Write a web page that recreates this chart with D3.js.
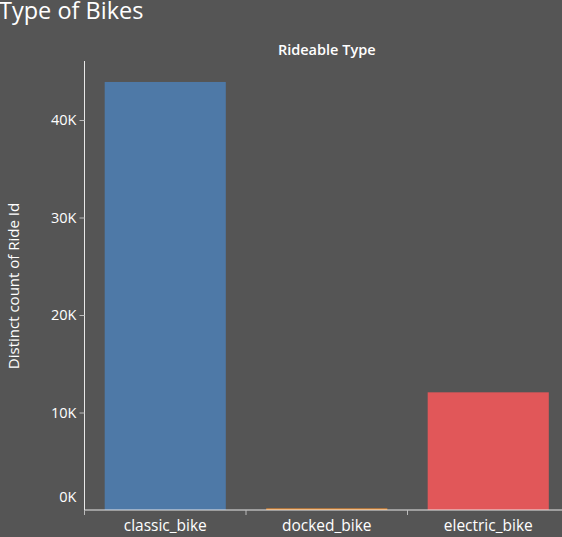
<!DOCTYPE html>
<html>
<head>
<meta charset="utf-8">
<script src="https://cdn.jsdelivr.net/npm/d3@7"></script>
<style>
  html, body { margin: 0; padding: 0; background: #555555; overflow: hidden; }
  svg { display: block; font-family: "Open Sans", Lato, sans-serif; }
</style>
</head>
<body>
<div id="chart"></div>
<script>
// data
var categories = ["classic_bike", "docked_bike", "electric_bike"];
var rideCounts = [43900, 160, 12070];
var barColors = ["#4e79a7", "#f28e2b", "#e15759"];
var yTicks = [0, 10000, 20000, 30000, 40000];

var width = 562, height = 537;
var margin = {top: 61, right: -7, bottom: 27, left: 84.5};
var font = '"Open Sans", Lato, sans-serif';

var svg = d3.select('#chart').append('svg')
    .attr('width', width)
    .attr('height', height);

svg.append('rect')
    .attr('width', width).attr('height', height)
    .attr('fill', '#555555');

var x = d3.scaleBand()
    .domain(categories)
    .range([margin.left, width - margin.right])
    .paddingInner(0.25)
    .paddingOuter(0.125);

// 0 sits at y=510, 40K at y=120
var y = d3.scaleLinear()
    .domain([0, 40000 * (510 - margin.top) / (510 - 120)])
    .range([height - margin.bottom, margin.top]);

// titles
svg.append('text')
    .attr('x', -1).attr('y', 19)
    .attr('fill', '#ffffff')
    .style('font-size', '23.5px')
    .text('Type of Bikes');

svg.append('text')
    .attr('x', (x.range()[0] + x.range()[1]) / 2)
    .attr('y', 55)
    .attr('text-anchor', 'middle')
    .attr('fill', '#ffffff')
    .style('font-size', '14.5px')
    .style('font-weight', '600')
    .text('Rideable Type');

svg.append('text')
    .attr('transform', 'translate(19,286) rotate(-90)')
    .attr('text-anchor', 'middle')
    .attr('fill', '#ffffff')
    .style('font-size', '15px')
    .text('Distinct count of Ride Id');

// bars
svg.append('g')
  .selectAll('rect')
  .data(categories)
  .enter().append('rect')
    .attr('x', function(d) { return x(d); })
    .attr('width', x.bandwidth())
    .attr('y', function(d, i) { return y(rideCounts[i]); })
    .attr('height', function(d, i) { return y(0) - y(rideCounts[i]); })
    .attr('fill', function(d, i) { return barColors[i]; });

// y axis
var yAxis = svg.append('g')
    .attr('transform', 'translate(' + margin.left + ',0)')
    .call(d3.axisLeft(y).tickValues(yTicks).tickSize(5).tickPadding(3)
        .tickFormat(function(d) { return (d / 1000) + 'K'; }));
yAxis.select('.domain').attr('d', 'M0,' + margin.top + 'V515').attr('stroke', '#e8e8e8');
yAxis.selectAll('.tick line').attr('stroke', '#bbbbbb');
yAxis.selectAll('.tick text')
    .attr('fill', '#ffffff')
    .style('font-size', '14.5px')
    .style('font-family', font);
yAxis.selectAll('.tick').filter(function(d) { return d === 0; })
    .select('line').remove();
yAxis.selectAll('.tick').filter(function(d) { return d === 0; })
    .select('text').attr('y', -13);

// x axis
var xAxis = svg.append('g')
    .attr('transform', 'translate(0,' + y(0) + ')')
    .call(d3.axisBottom(x).tickSize(0).tickPadding(10));
xAxis.select('.domain').attr('d', 'M' + margin.left + ',0H' + width).attr('stroke', '#e8e8e8');
xAxis.selectAll('.tick text')
    .attr('fill', '#ffffff')
    .style('font-size', '15.5px')
    .style('font-family', font);

// band dividers below the baseline
var bounds = categories.map(function(d) { return x(d) - x.step() * x.paddingInner() / 2; });
xAxis.selectAll('.divider')
  .data(bounds)
  .enter().append('line')
    .attr('class', 'divider')
    .attr('x1', function(d) { return d; }).attr('x2', function(d) { return d; })
    .attr('y1', 0).attr('y2', 5)
    .attr('stroke', '#bbbbbb');
</script>
</body>
</html>
